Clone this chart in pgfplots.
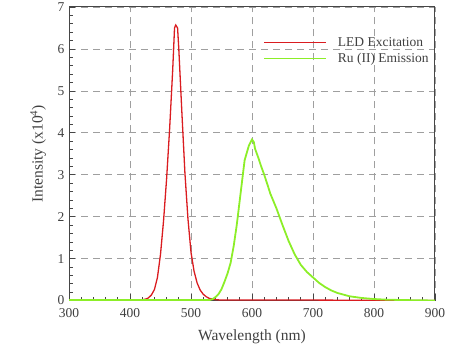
\documentclass[border=0pt]{standalone}
\usepackage{pgfplots}
\pgfplotsset{compat=1.18}
\usepackage{fontspec}
\setmainfont{Liberation Serif}
\definecolor{ledred}{RGB}{218,28,32}
\definecolor{rugreen}{RGB}{140,238,40}
\definecolor{axgray}{RGB}{70,70,70}
\begin{document}
\begin{tikzpicture}
\useasboundingbox (0,0) rectangle (474bp,353bp);
\begin{axis}[
  at={(69bp,52.5bp)}, anchor=south west,
  scale only axis, width=366bp, height=293.5bp,
  xmin=300, xmax=900, ymin=0, ymax=7,
  xtick={300,400,...,900}, ytick={0,1,...,7},
  minor x tick num=4, minor y tick num=4,
  tick align=inside, xtick pos=bottom, ytick pos=left,
  major tick length=6bp, minor tick length=3.5bp,
  every tick/.style={axgray, line width=0.6bp},
  axis line style={axgray, line width=1bp},
  grid=major,
  major grid style={gray!75, dash pattern=on 7bp off 5bp, line width=0.6bp},
  /pgf/number format/assume math mode=true,
  ticklabel style={font=\fontsize{13.5bp}{15bp}\selectfont, color=black!75},
  xticklabel style={yshift=-5bp},
  yticklabel style={xshift=-1bp},
  xlabel={Wavelength (nm)}, ylabel={Intensity (x10\textsuperscript{4})},
  label style={font=\fontsize{15.5bp}{17bp}\selectfont, color=black!75},
  xlabel style={yshift=-5bp},
  ylabel style={yshift=5bp},
  legend style={draw=none, fill=none, at={(0.53,0.905)}, anchor=north west,
    font=\fontsize{13.5bp}{15bp}\selectfont,
    row sep=1.5bp, column sep=9bp, inner sep=0pt, cells={anchor=west}},
  legend cell align=left,
  legend image code/.code={\draw[#1] (0bp,0bp) -- (62bp,0bp);},
]
\addlegendimage{ledred, line width=1.3bp}
\addlegendentry{\color{black!75}LED Excitation}
\addlegendimage{rugreen, line width=1.8bp}
\addlegendentry{\color{black!75}Ru (II) Emission}
\addplot[ledred, line width=1.3bp, forget plot] coordinates {
(300,0.01) (350,0.01) (400,0.01) (420,0.02) (425,0.03) (430,0.06) (435,0.13)
(440,0.26) (445,0.55) (450,1.1) (455,1.9) (460,2.9) (465,4.1) (470,5.5)
(473,6.5) (475,6.57) (478,6.5) (480,6.0) (485,4.5) (490,3.05) (495,1.95)
(500,1.15) (505,0.7) (510,0.42) (515,0.25) (520,0.15) (525,0.09) (530,0.05)
(540,0.02) (550,0.01) (700,0.01) (900,0.0)};
\addplot[rugreen, line width=1.8bp, forget plot] coordinates {
(300,0.01) (400,0.01) (500,0.01) (530,0.01) (535,0.03) (540,0.08) (545,0.15)
(550,0.27) (555,0.45) (560,0.65) (565,0.9) (570,1.3) (575,1.8) (580,2.4)
(585,3.0) (588,3.35) (590,3.45) (595,3.7) (600,3.84) (603,3.78) (605,3.62)
(610,3.42) (615,3.2) (620,3.0) (625,2.78) (630,2.55) (640,2.2) (650,1.8)
(660,1.42) (670,1.1) (680,0.85) (690,0.68) (700,0.55) (710,0.42) (720,0.32)
(730,0.24) (740,0.18) (750,0.14) (760,0.1) (780,0.06) (800,0.035)
(820,0.02) (850,0.01) (900,0.0)};
\end{axis}
\end{tikzpicture}
\end{document}
